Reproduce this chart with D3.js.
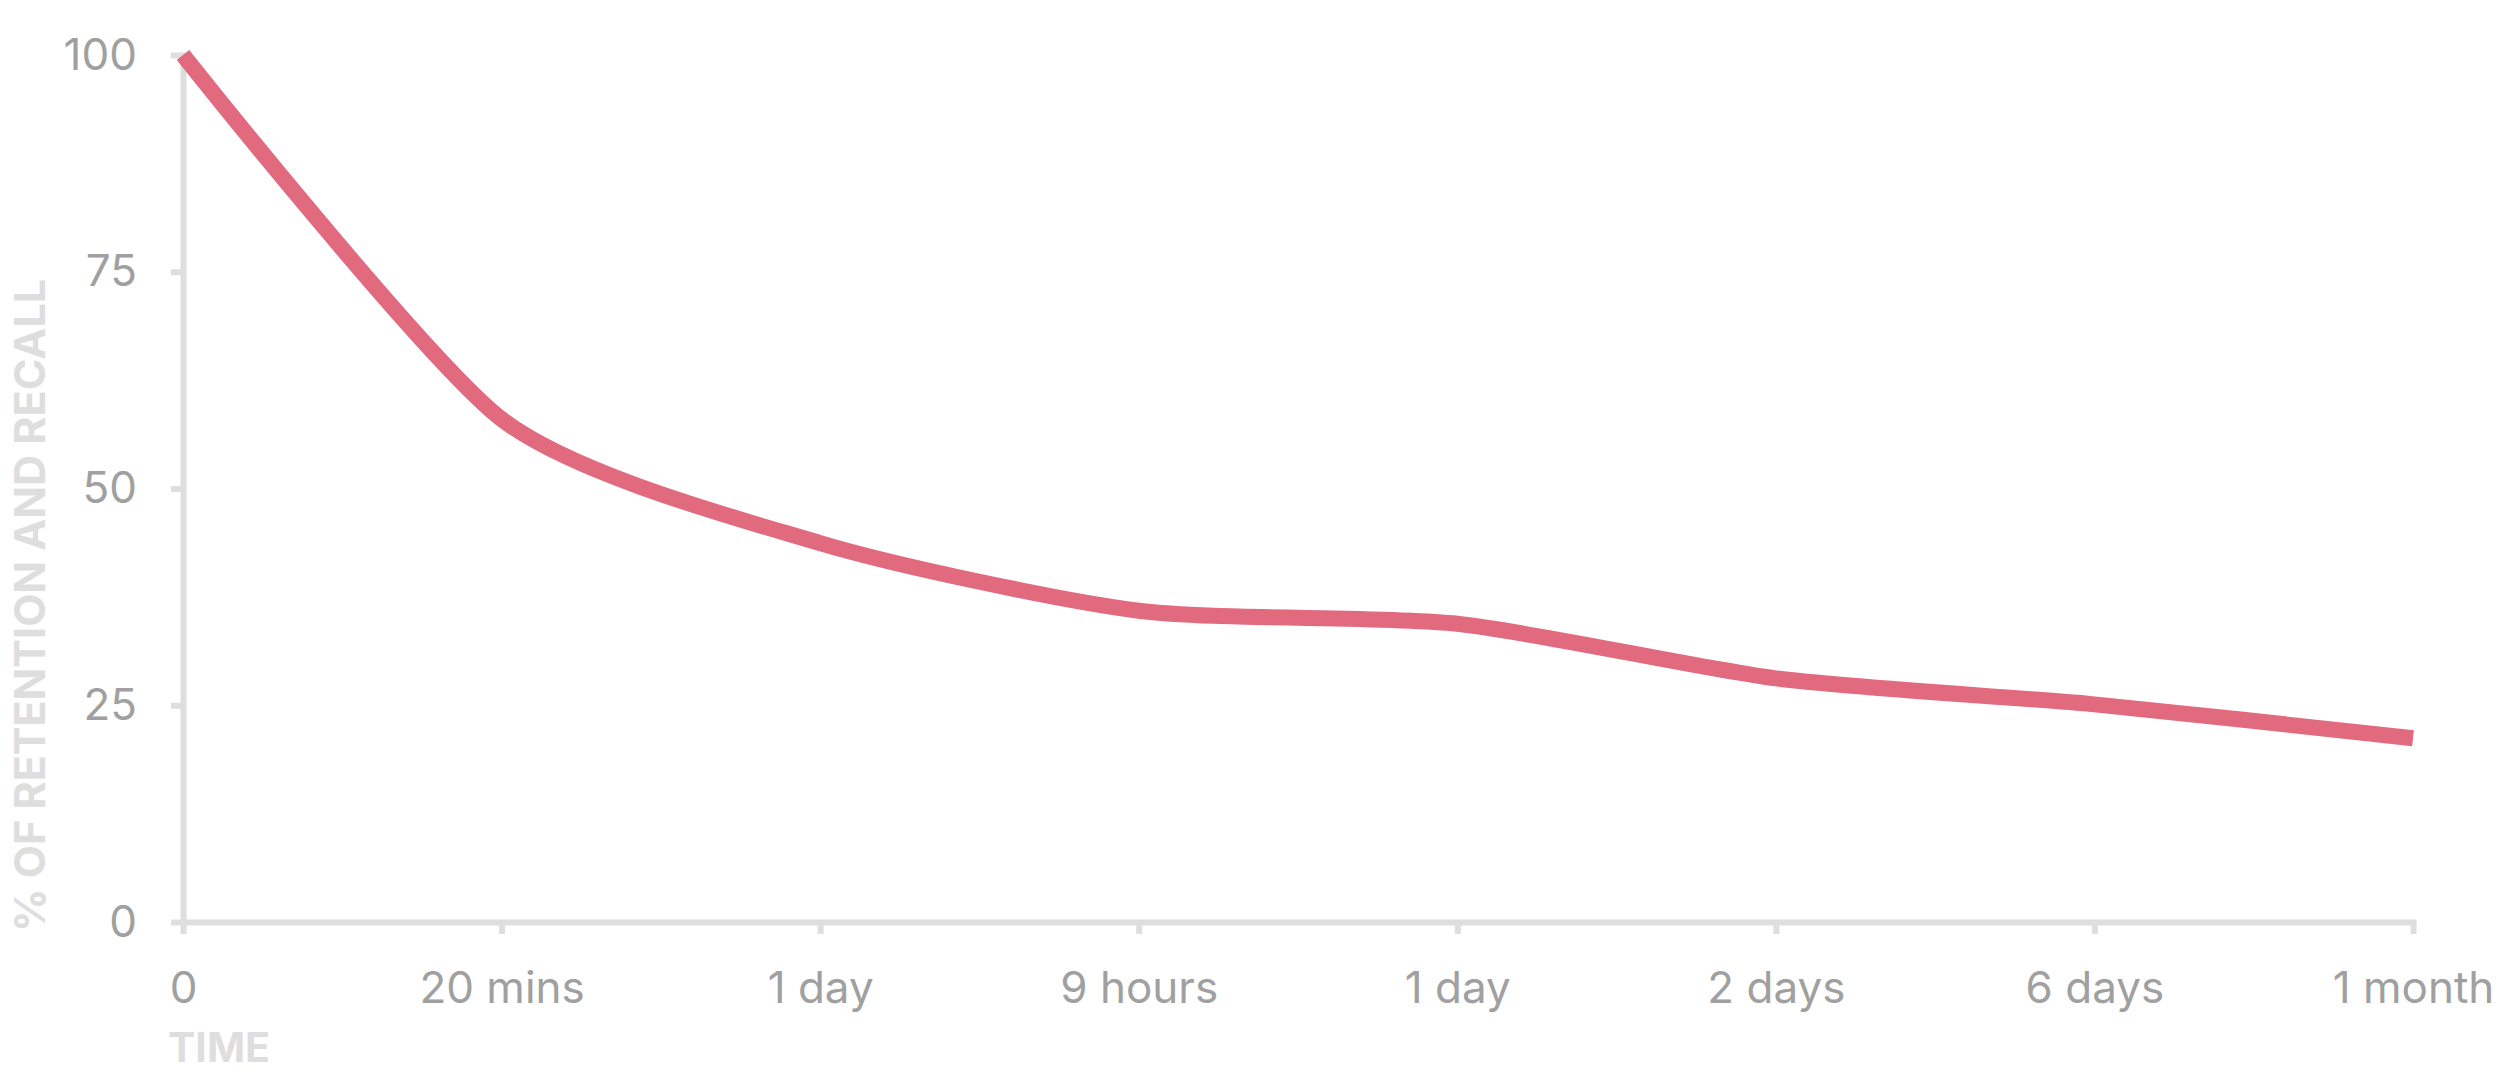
<!DOCTYPE html>
<html>
<head>
<meta charset="utf-8">
<script src="https://d3js.org/d3.v7.min.js"></script>
<style>
  body { margin: 0; background: #fff; }
  .axis text { font-family: Inter, "Open Sans", sans-serif; font-size: 44px; fill: #a0a0a0; }
  .axis path, .axis line { stroke: #dedede; stroke-width: 6px; }
  .title { font-family: Inter, "Open Sans", sans-serif; font-weight: 700; fill: #dedede; }
</style>
</head>
<body>
<script>
// time labels along the x axis (note "1 day" appears twice in the source)
var timeLabels = ["0", "20 mins", "1 day", "9 hours", "1 day", "2 days", "6 days", "1 month"];
// % of retention and recall at each label
var retention = [100, 58, 43.7, 35.9, 34.4, 28.1, 25.1, 21.2];
var yTicks = [0, 25, 50, 75, 100];

var W = 2500, H = 1073;
var margin = {top: 55, right: 87, bottom: 151, left: 183};
var width = W - margin.left - margin.right,
    height = H - margin.top - margin.bottom;

var svg = d3.select("body").append("svg")
  .attr("width", W).attr("height", H);
var g = svg.append("g")
  .attr("transform", "translate(" + margin.left + "," + margin.top + ")");

var x = d3.scaleLinear().domain([0, timeLabels.length - 1]).range([0, width]);
var y = d3.scaleLinear().domain([0, 100]).range([height, 0]);

// axes
g.append("g")
  .attr("class", "axis")
  .call(d3.axisLeft(y).tickValues(yTicks).tickSize(12).tickSizeOuter(0).tickPadding(34));

g.append("g")
  .attr("class", "axis")
  .attr("transform", "translate(0," + height + ")")
  .call(d3.axisBottom(x)
    .tickValues(d3.range(timeLabels.length))
    .tickFormat(function(i) { return timeLabels[i]; })
    .tickSize(12).tickSizeOuter(0).tickPadding(38));

g.selectAll(".domain").attr("stroke-linecap", "square");

// the curve
var line = d3.line()
  .x(function(d, i) { return x(i); })
  .y(function(d) { return y(d); })
  .curve(d3.curveCardinal.tension(0.3));

g.append("path")
  .datum(retention)
  .attr("fill", "none")
  .attr("stroke", "#e16a7f")
  .attr("stroke-width", 16)
  .attr("d", line);

// axis titles
svg.append("text")
  .attr("class", "title")
  .attr("x", 168).attr("y", 1062)
  .style("font-size", "41px")
  .text("TIME");

svg.append("text")
  .attr("class", "title")
  .attr("transform", "translate(45,932) rotate(-90)")
  .style("font-size", "43px")
  .text("% OF RETENTION AND RECALL");
</script>
</body>
</html>
